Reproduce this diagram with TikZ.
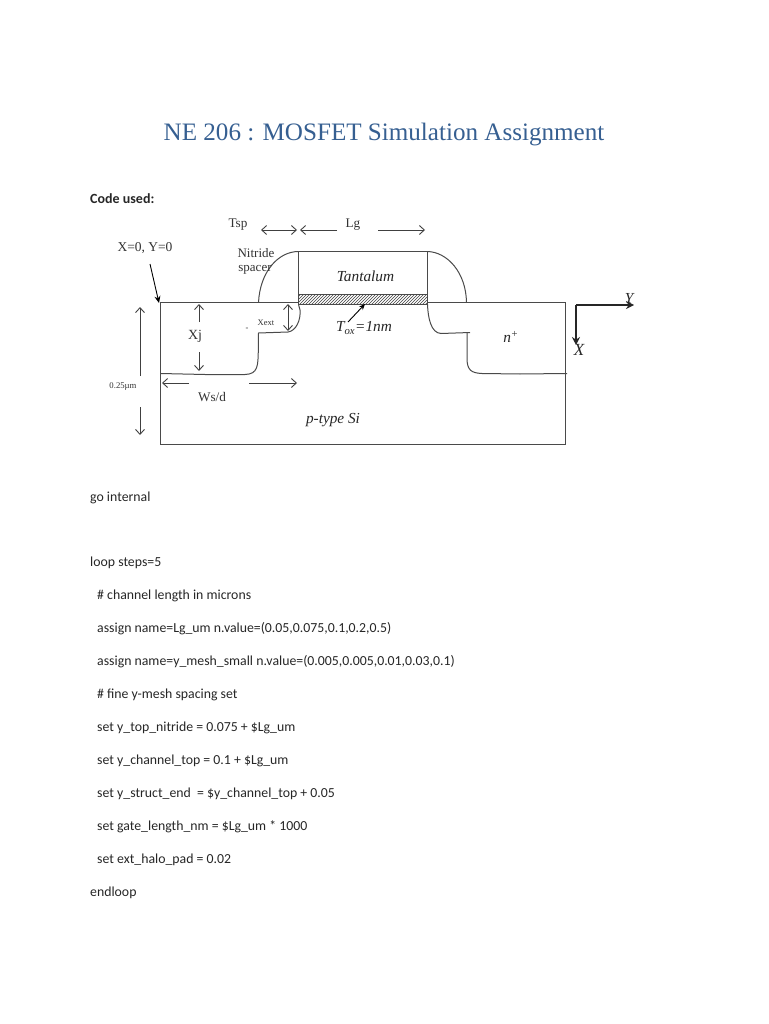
\documentclass[tikz,border=0pt]{standalone}
\usepackage{fontspec}
\setmainfont{Carlito}
\newfontfamily\figfont{Liberation Serif}
\usetikzlibrary{patterns,arrows.meta}
\definecolor{titleblue}{HTML}{365F91}
\definecolor{figline}{HTML}{4A4A4A}
\tikzset{
	codeline/.style={anchor=west,inner sep=0pt,text=black!85,font=\fontsize{13.8}{16}\selectfont},
	figlabel/.style={inner sep=0pt,text=black!80,font=\figfont\fontsize{13.2}{15}\selectfont},
	figtiny/.style={inner sep=0pt,text=black!80,font=\figfont\fontsize{8.5}{9}\selectfont},
	figital/.style={inner sep=0pt,text=black!85,font=\figfont\itshape\fontsize{15.3}{17}\selectfont},
	outline/.style={draw=figline,line width=1pt},
	dimline/.style={draw=black!75,line width=0.9pt,{Straight Barb[length=5pt,width=9pt]}-{Straight Barb[length=5pt,width=9pt]}},
	dimend/.style={draw=black!75,line width=0.9pt,-{Straight Barb[length=5pt,width=9pt]}},
	axisline/.style={draw=black!85,line width=1.3pt,-{Stealth[length=8pt,width=8pt]}}
}
\begin{document}
\begin{tikzpicture}[x=1pt,y=-1pt]
	\useasboundingbox (0,0) rectangle (768,1024);
	\node (title) at (384,134.5) [inner sep=0pt,text=titleblue,font=\figfont\fontsize{25.1}{30}\selectfont] {NE 206 : MOSFET Simulation Assignment};
	\node (used) at (90,199) [codeline,font=\bfseries\fontsize{14}{16}\selectfont] {Code used:};

	\begin{scope}
		% substrate and gate stack
		\draw[outline] (160.5,302.5) rectangle (565.5,444.5);
		\fill[white] (298.5,251.5) rectangle (427.5,304.5);
		\draw[outline] (298.5,304.5) -- (298.5,251.5) -- (427.5,251.5) -- (427.5,304.5);
		\fill[pattern=north east lines,pattern color=black!75] (298.5,294.5) rectangle (427.5,304.5);
		\draw[outline] (298.5,294.5) -- (427.5,294.5);
		\draw[outline] (298.5,304.5) -- (427.5,304.5);
		% spacers
		\draw[outline] (258.5,302.5) .. controls (260,272) and (278,251.5) .. (298.5,251.5);
		\draw[outline] (427.5,251.5) .. controls (447,252) and (466,272) .. (466.5,302.5);
		% junctions
		\draw[outline] (160.5,373.5) -- (205,374.5) -- (245,374.5)
			.. controls (258,374) and (258,366) .. (258.3,350) -- (258.5,333) -- (288,332)
			.. controls (296,331) and (301,320) .. (300,310) -- (298.5,304.5);
		\draw[outline] (427.5,304.5) .. controls (428,318) and (431,333) .. (441,333.5)
			-- (470,332.5);
		\draw[outline] (467,332.5) -- (467,358)
			.. controls (467,370) and (471,373) .. (482,373.5) -- (520,374) -- (567,373.5);
	\end{scope}

	\begin{scope}
		% labels of the figure
		\node (tsp) at (238,225) [figlabel] {Tsp};
		\node (lg) at (353,225) [figlabel] {Lg};
		\node (origin) at (145,248) [figlabel,font=\figfont\fontsize{13.5}{15}\selectfont] {X=0, Y=0};
		\node (nitride) at (256,253.5) [figlabel,font=\figfont\fontsize{13}{15}\selectfont] {Nitride};
		\node (spacer) at (255,270) [figlabel,font=\figfont\fontsize{13}{15}\selectfont] {spacer};
		\node (tantalum) at (365.5,276) [figital] {Tantalum};
		\node (tox) at (364,328) [figital] {T\textsubscript{ox}=1nm};
		\node (xj) at (195,336) [figlabel,font=\figfont\fontsize{14}{16}\selectfont] {Xj};
		\node (xext) at (266,322.5) [figtiny] {Xext};
		\node (dash) at (247,329.5) [figtiny] {-};
		\node (wsd) at (212,397) [figlabel] {Ws/d};
		\node (depth) at (123,387) [figtiny,font=\figfont\fontsize{8.7}{9}\selectfont] {0.25µm};
		\node (nplus) at (511,337) [figital] {n\textsuperscript{+}};
		\node (ptype) at (333,420) [figital] {p-type Si};
		\node (axisy) at (629,298) [figital] {Y};
		\node (axisx) at (579,350) [figital,font=\figfont\itshape\fontsize{17}{18}\selectfont] {X};

		% free ends of the connectors
		\coordinate (tspl) at (261,230);
		\coordinate (tspr) at (297,230);
		\coordinate (lgl) at (300,230);
		\coordinate (lgm) at (337,230);
		\coordinate (lgn) at (378,230);
		\coordinate (lgr) at (425,230);
		\coordinate (corner) at (159,303);
		\coordinate (oxide) at (365,304);
		\coordinate (axiso) at (576,305);
		\coordinate (axisyend) at (634,305);
		\coordinate (axisxend) at (576,345);

		\draw[dimline] (tspl) -- (tspr);
		\draw[dimend] (lgm) -- (lgl);
		\draw[dimend] (lgn) -- (lgr);
		\draw[dimline] (288,304) -- (288,331);
		\draw[dimend] (199,322) -- (199,304);
		\draw[dimend] (199,352) -- (199,371);
		\draw[dimend] (189,383) -- (162,383);
		\draw[dimend] (249,383) -- (297,383);
		\draw[dimend] (140,376) -- (140,307);
		\draw[dimend] (140,407) -- (140,435);
		\draw[draw=black,line width=0.9pt,-{Stealth[length=7pt,width=6pt]}] (150,264) -- (corner);
		\draw[draw=black,line width=0.9pt,-{Stealth[length=6pt,width=5pt]}] (348,322) -- (oxide);
		\draw[axisline] (axiso) -- (axisyend);
		\draw[axisline] (axiso) -- (axisxend);
	\end{scope}

	\begin{scope}
		\node (l1) at (90,498) [codeline] {go internal};
		\node (l2) at (90,563) [codeline] {loop steps=5};
		\node (l3) at (97,596) [codeline] {\# channel length in microns};
		\node (l4) at (97,629) [codeline] {assign name=Lg\_um n.value=(0.05,0.075,0.1,0.2,0.5)};
		\node (l5) at (97,662) [codeline] {assign name=y\_mesh\_small n.value=(0.005,0.005,0.01,0.03,0.1)};
		\node (l6) at (97,695) [codeline] {\# fine y-mesh spacing set};
		\node (l7) at (97,728) [codeline] {set y\_top\_nitride = 0.075 + \$Lg\_um};
		\node (l8) at (97,761) [codeline] {set y\_channel\_top = 0.1 + \$Lg\_um};
		\node (l9) at (97,794) [codeline] {set y\_struct\_end\ \ = \$y\_channel\_top + 0.05};
		\node (l10) at (97,827) [codeline] {set gate\_length\_nm = \$Lg\_um * 1000};
		\node (l11) at (97,860) [codeline] {set ext\_halo\_pad = 0.02};
		\node (l12) at (90,893) [codeline] {endloop};
	\end{scope}
\end{tikzpicture}
\end{document}
